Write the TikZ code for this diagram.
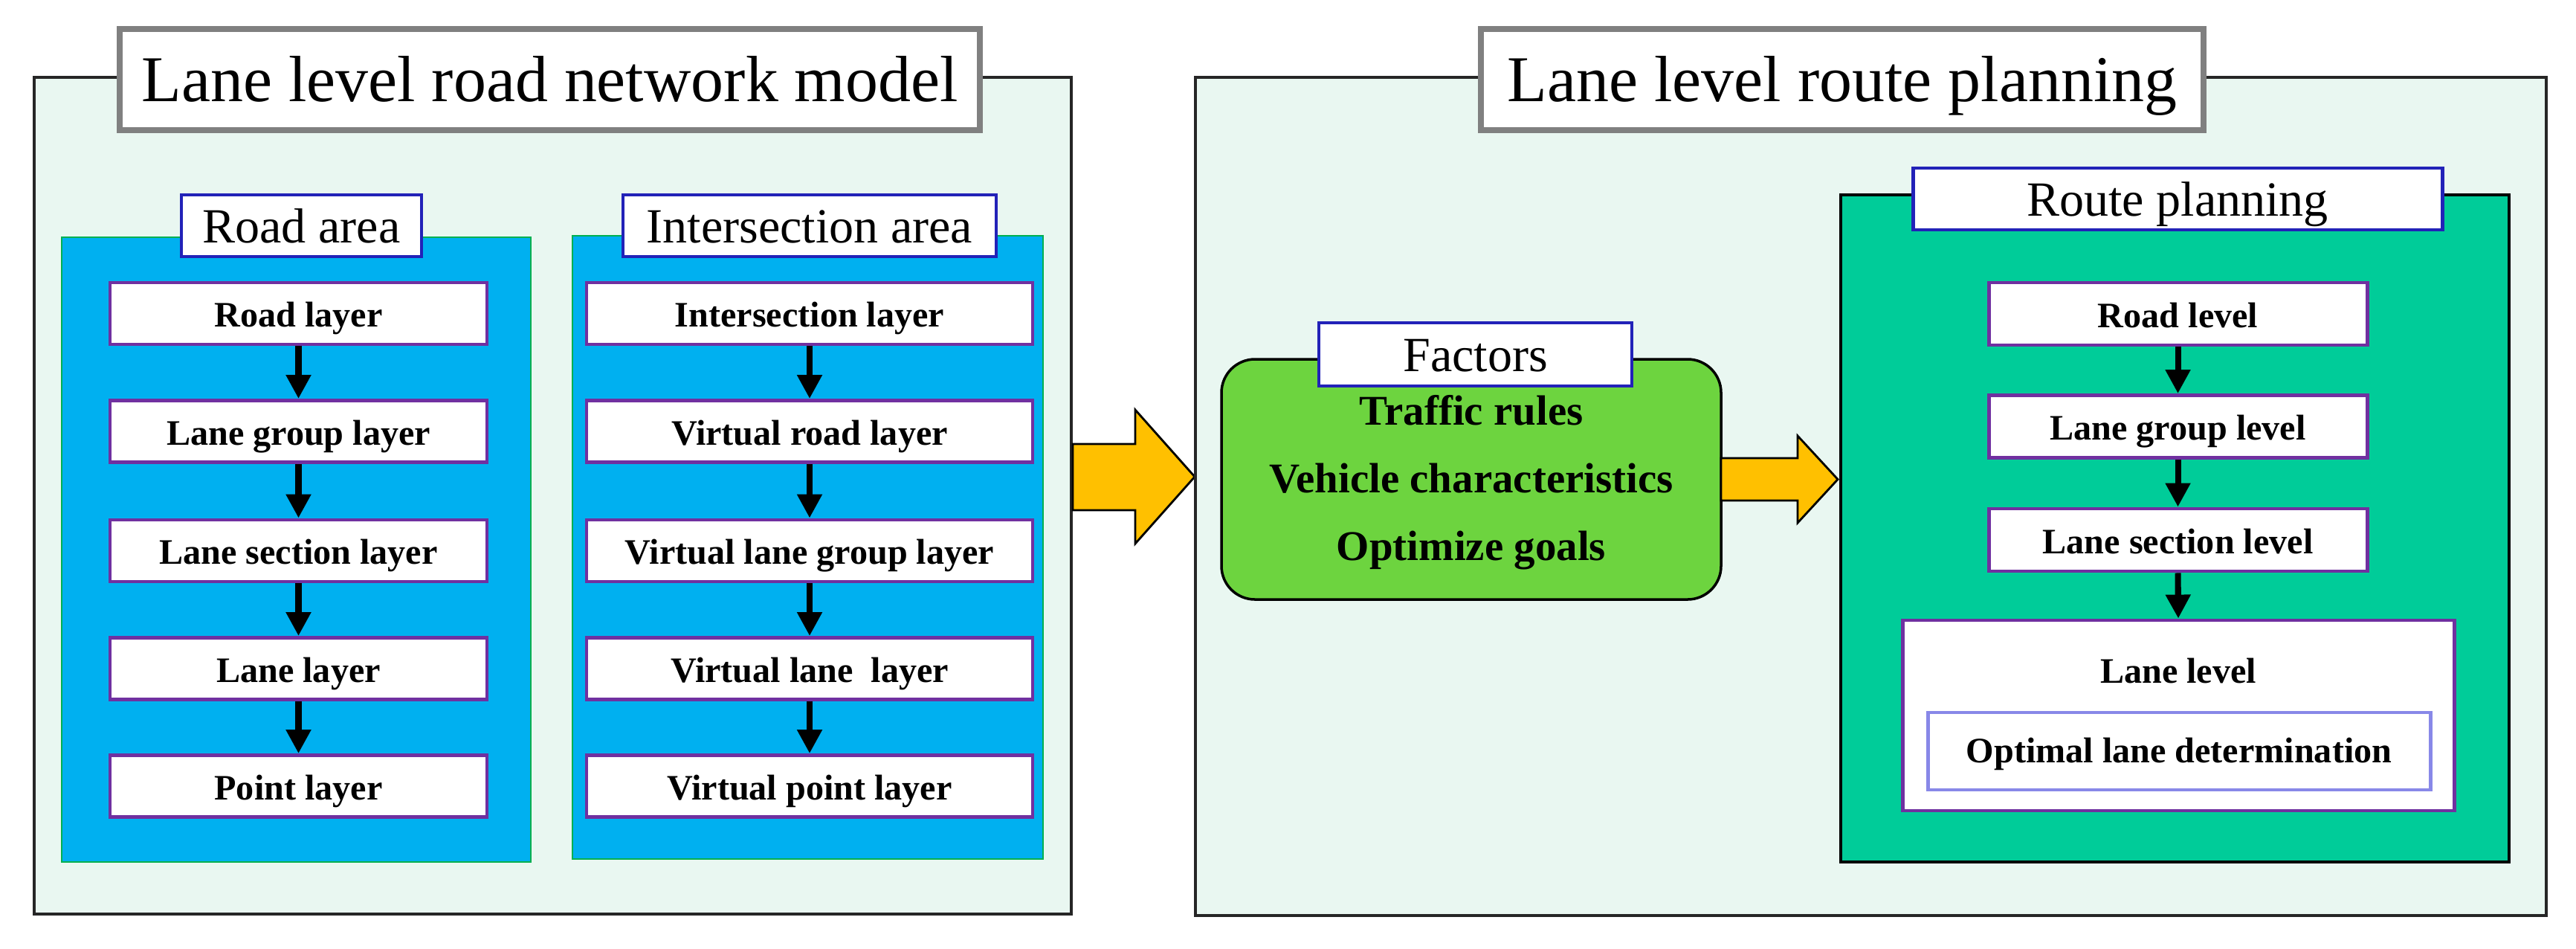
\documentclass[tikz,border=0pt]{standalone}
\usepackage{fontspec}
\setmainfont{Liberation Serif}
\usetikzlibrary{arrows.meta}
\definecolor{mint}{HTML}{E9F7F1}
\definecolor{skyb}{HTML}{00B0F0}
\definecolor{routeg}{HTML}{00CC99}
\definecolor{factg}{HTML}{6DD43F}
\definecolor{orng}{HTML}{FFC000}
\definecolor{purp}{HTML}{7030A0}
\definecolor{dblue}{HTML}{2222B8}
\definecolor{lav}{HTML}{8888E8}
\definecolor{areag}{HTML}{00B050}
\definecolor{tgray}{HTML}{808080}
\tikzset{
  outerbox/.style={draw=black!85, line width=0.9pt, fill=mint, inner sep=0pt},
  bigtitle/.style={draw=tgray, line width=2.2pt, fill=white, inner sep=0pt,
    font=\fontsize{25}{30}\selectfont, text height=16.5pt, text depth=0pt},
  area/.style={draw=areag, line width=0.8pt, fill=skyb, inner sep=0pt},
  areatitle/.style={draw=dblue, line width=1.4pt, fill=white, inner sep=0pt,
    font=\fontsize{18.8}{22}\selectfont, text height=13pt, text depth=0pt},
  layer/.style={draw=purp, line width=1.4pt, fill=white, inner sep=0pt,
    font=\bfseries\fontsize{13.7}{16}\selectfont, text height=10.5pt, text depth=0pt,
    minimum height=0.83cm},
  plaintext/.style={inner sep=0pt, text height=11pt, text depth=0pt},
  flow/.style={-{Triangle[width=0.32cm,length=0.32cm]}, line width=2.3pt},
  blockarrow/.style={draw=black, line width=0.8pt, fill=orng, line join=miter},
}
\begin{document}
\begin{tikzpicture}[x=1cm,y=-1cm]
\useasboundingbox (0,0) rectangle (34.65,12.75);
% ---------- left panel ----------
\node[outerbox, minimum width=13.95cm, minimum height=11.25cm] (lpanel) at (7.435,6.665) {};
\node[bigtitle, minimum width=11.57cm, minimum height=1.36cm] (ltitle) at (7.395,1.07) {Lane level road network model};

\node[area, minimum width=6.31cm, minimum height=8.40cm] (roadarea) at (3.985,7.39) {};
\node[areatitle, minimum width=3.23cm, minimum height=0.83cm] (roadareat) at (4.055,3.035) {Road area};
\node[area, minimum width=6.33cm, minimum height=8.38cm] (intarea) at (10.865,7.36) {};
\node[areatitle, minimum width=5.02cm, minimum height=0.83cm] (intareat) at (10.89,3.035) {Intersection area};

\node[layer, minimum width=5.07cm] (r1) at (4.015,4.215) {Road layer};
\node[layer, minimum width=5.07cm] (r2) at (4.015,5.80) {Lane group layer};
\node[layer, minimum width=5.07cm] (r3) at (4.015,7.405) {Lane section layer};
\node[layer, minimum width=5.07cm] (r4) at (4.015,8.99) {Lane layer};
\node[layer, minimum width=5.07cm] (r5) at (4.015,10.57) {Point layer};

\node[layer, minimum width=6.00cm] (i1) at (10.89,4.215) {Intersection layer};
\node[layer, minimum width=6.00cm] (i2) at (10.89,5.80) {Virtual road layer};
\node[layer, minimum width=6.00cm] (i3) at (10.89,7.405) {Virtual lane group layer};
\node[layer, minimum width=6.00cm] (i4) at (10.89,8.99) {Virtual lane\ \ layer};
\node[layer, minimum width=6.00cm] (i5) at (10.89,10.57) {Virtual point layer};

\foreach \a/\b in {r1/r2,r2/r3,r3/r4,r4/r5,i1/i2,i2/i3,i3/i4,i4/i5}
  \draw[flow] (\a.south) -- (\b.north);

% ---------- big arrow ----------
\draw[blockarrow] (14.43,5.97) -- (15.27,5.97) -- (15.27,5.51) -- (16.07,6.41)
  -- (15.27,7.31) -- (15.27,6.86) -- (14.43,6.86) -- cycle;

% ---------- right panel ----------
\node[outerbox, minimum width=18.17cm, minimum height=11.27cm] (rpanel) at (25.165,6.675) {};
\node[bigtitle, minimum width=9.72cm, minimum height=1.36cm] (rtitle) at (24.78,1.07) {Lane level route planning};

% factors
\node[draw=black, line width=1pt, fill=factg, rounded corners=0.45cm, inner sep=0pt,
  minimum width=6.72cm, minimum height=3.23cm] (factors) at (19.79,6.445) {};
\node[areatitle, minimum width=4.21cm, minimum height=0.85cm] (factorst) at (19.845,4.765) {Factors};
\node[plaintext, font=\bfseries\fontsize{16.2}{19}\selectfont] (f1) at (19.79,5.52) {Traffic rules};
\node[plaintext, font=\bfseries\fontsize{16.2}{19}\selectfont] (f2) at (19.79,6.43) {Vehicle characteristics};
\node[plaintext, font=\bfseries\fontsize{16.2}{19}\selectfont] (f3) at (19.79,7.34) {Optimize goals};

% second arrow
\draw[blockarrow] (23.15,6.16) -- (24.18,6.16) -- (24.18,5.86) -- (24.72,6.445)
  -- (24.18,7.03) -- (24.18,6.73) -- (23.15,6.73) -- cycle;

% route planning
\node[draw=black, line width=1pt, fill=routeg, inner sep=0pt,
  minimum width=8.99cm, minimum height=8.97cm] (route) at (29.255,7.105) {};
\node[areatitle, minimum width=7.12cm, minimum height=0.83cm] (routet) at (29.29,2.675) {Route planning};

\node[layer, minimum width=5.09cm, minimum height=0.84cm] (l1) at (29.295,4.22) {Road level};
\node[layer, minimum width=5.09cm, minimum height=0.84cm] (l2) at (29.295,5.735) {Lane group level};
\node[layer, minimum width=5.09cm, minimum height=0.84cm] (l3) at (29.295,7.26) {Lane section level};
\node[draw=purp, line width=1.4pt, fill=white, inner sep=0pt,
  minimum width=7.42cm, minimum height=2.56cm] (l4) at (29.30,9.62) {};
\node[plaintext, font=\bfseries\fontsize{13.7}{16}\selectfont, text height=9pt] (l4t) at (29.30,9.03) {Lane level};
\node[draw=lav, line width=1.4pt, fill=white, inner sep=0pt,
  font=\bfseries\fontsize{13.7}{16}\selectfont, text height=9pt, text depth=0pt,
  minimum width=6.76cm, minimum height=1.04cm] (opt) at (29.31,10.10) {Optimal lane determination};

\draw[flow] (l1.south) -- (l2.north);
\draw[flow] (l2.south) -- (l3.north);
\draw[flow] (l3.south) -- (l4.north);
\end{tikzpicture}
\end{document}
